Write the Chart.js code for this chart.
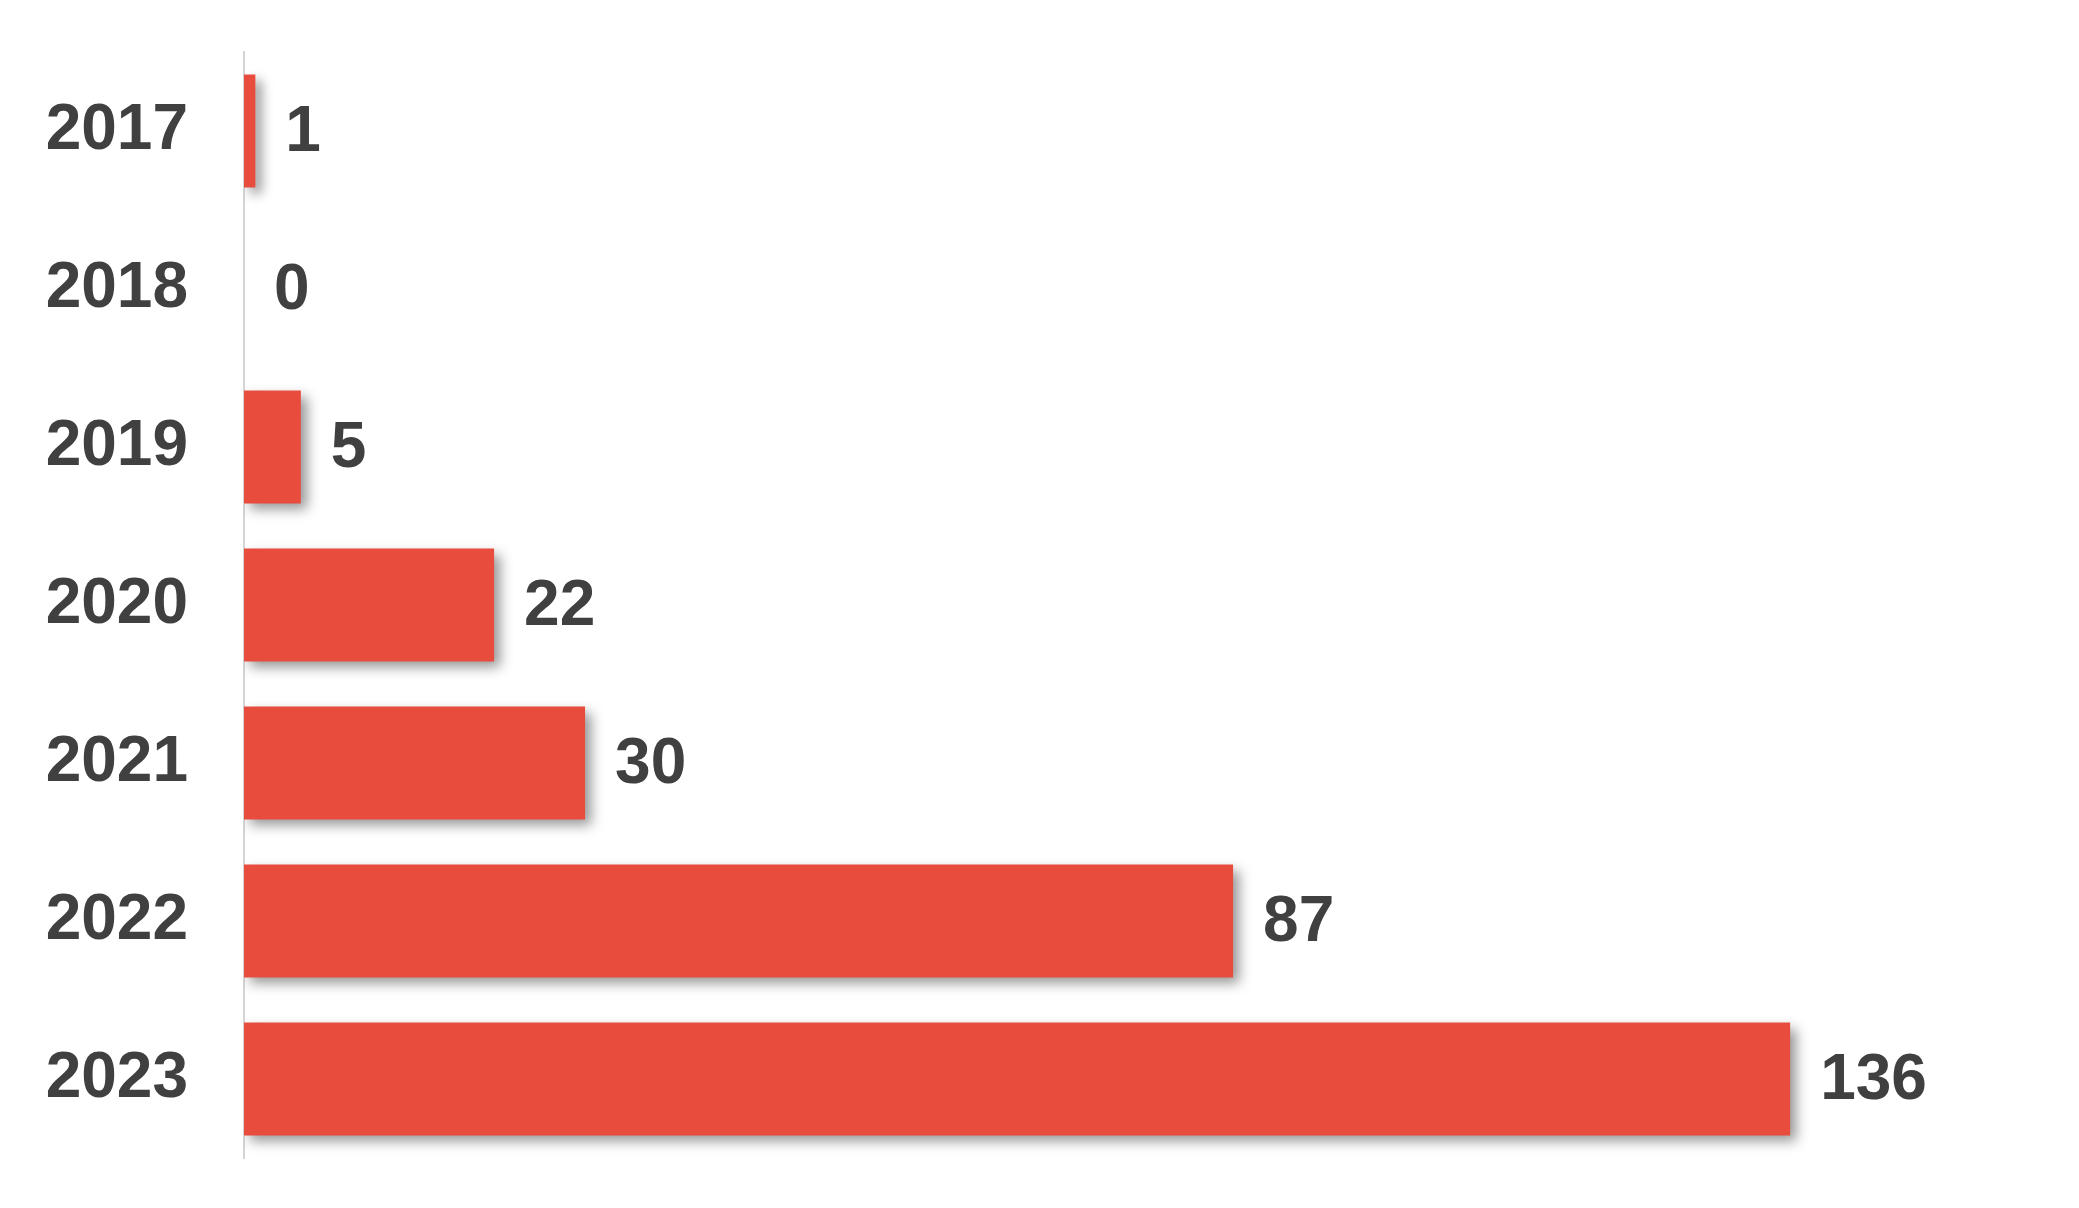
<!DOCTYPE html>
<html>
<head>
<meta charset="utf-8">
<script src="https://cdn.jsdelivr.net/npm/chart.js@4/dist/chart.umd.min.js"></script>
<style>
html,body{margin:0;padding:0;background:#fff;}
canvas{display:block;}
</style>
</head>
<body>
<canvas id="c" width="2079" height="1208"></canvas>
<script>
const categories = ["2017","2018","2019","2020","2021","2022","2023"];
const values = [1, 0, 5, 22, 30, 87, 136];
const xMax = 160;

const barColor = '#E84C3D';
const textColor = '#404040';
const fontFamily = '"Liberation Sans", Arial, sans-serif';

const shadowPlugin = {
  id: 'barShadow',
  beforeDatasetsDraw(chart) {
    const ctx = chart.ctx;
    ctx.save();
    ctx.shadowColor = 'rgba(0,0,0,0.42)';
    ctx.shadowBlur = 12;
    ctx.shadowOffsetX = 6;
    ctx.shadowOffsetY = 6;
  },
  afterDatasetsDraw(chart) {
    chart.ctx.restore();
    const ctx = chart.ctx;
    const meta = chart.getDatasetMeta(0);
    ctx.save();
    ctx.fillStyle = textColor;
    ctx.font = 'bold 64px ' + fontFamily;
    ctx.textAlign = 'left';
    ctx.textBaseline = 'middle';
    meta.data.forEach((el, i) => {
      const v = chart.data.datasets[0].data[i];
      ctx.fillText(String(v), el.x + 30, el.y + 2);
    });
    ctx.restore();
  }
};

new Chart(document.getElementById('c'), {
  type: 'bar',
  data: {
    labels: categories,
    datasets: [{
      data: values,
      backgroundColor: barColor,
      borderWidth: 0,
      barPercentage: 0.715,
      categoryPercentage: 1.0
    }]
  },
  options: {
    indexAxis: 'y',
    responsive: false,
    animation: false,
    devicePixelRatio: 1,
    layout: { padding: { top: 52, bottom: 50, right: 16, left: 0 } },
    plugins: { legend: { display: false }, tooltip: { enabled: false } },
    scales: {
      x: { display: false, min: 0, max: xMax },
      y: {
        grid: { display: false, drawTicks: false },
        border: { display: true, color: '#d4d4d4', width: 2 },
        ticks: {
          color: textColor,
          padding: 56,
          font: { family: fontFamily, size: 64, weight: 'bold' }
        },
        afterFit(scale) {
          scale.width = 244;
          scale.paddingTop = 0;
          scale.paddingBottom = 0;
        }
      }
    }
  },
  plugins: [shadowPlugin]
});
</script>
</body>
</html>
